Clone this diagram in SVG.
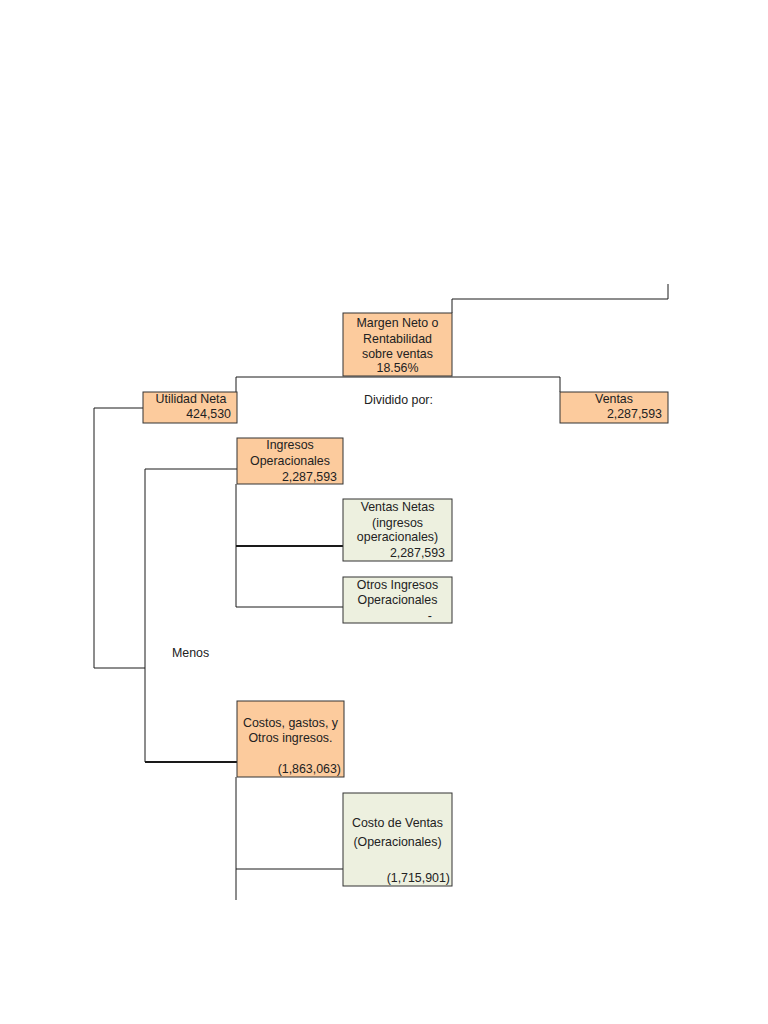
<svg xmlns="http://www.w3.org/2000/svg" width="768" height="1024" viewBox="0 0 768 1024">
<style>
.o{fill:#FCCB9D;stroke:#333;stroke-width:1}
.g{fill:#EDF0DF;stroke:#333;stroke-width:1}
text{font-family:"Liberation Sans",Arial,sans-serif;font-size:12.4px;fill:#222}
.c{text-anchor:middle}
.r{text-anchor:end}
.ln{fill:none;stroke:#1a1a1a;stroke-width:1}
.b{stroke-width:2}
</style>
<rect width="768" height="1024" fill="#fff"/>
<g id="connectors">
<path class="ln" d="M452,313 V299 H668 V284"/>
<path class="ln" stroke-width="1.5" d="M236,392 V377 H560 V392"/>
<path class="ln" d="M143,408 H94 V668 H145"/>
<path class="ln" d="M237,469 H145 V762"/>
<path class="ln b" d="M145,762 H237"/>
<path class="ln" d="M236,484 V607 H343"/>
<path class="ln b" d="M236,546 H343"/>
<path class="ln" d="M236,777 V900"/>
<path class="ln" stroke="#555" stroke-width="1.3" d="M236,869 H343"/>
</g>
<g id="margen">
<rect class="o" x="343" y="313" width="109" height="63"/>
<text class="c" x="397.5" y="327">Margen Neto o</text>
<text class="c" x="397.5" y="343">Rentabilidad</text>
<text class="c" x="397.5" y="358">sobre ventas</text>
<text class="c" x="397.5" y="372">18.56%</text>
</g>
<g id="utilidad">
<rect class="o" x="143" y="392" width="94" height="31"/>
<text class="c" x="191" y="403">Utilidad Neta</text>
<text class="r" x="231" y="418">424,530</text>
</g>
<g id="dividido">
<text x="364" y="404">Dividido por:</text>
</g>
<g id="ventas">
<rect class="o" x="560" y="392" width="108" height="31"/>
<text class="c" x="614" y="403">Ventas</text>
<text class="r" x="662" y="418">2,287,593</text>
</g>
<g id="ingresos">
<rect class="o" x="237" y="438" width="106" height="46"/>
<text class="c" x="290" y="449">Ingresos</text>
<text class="c" x="290" y="465">Operacionales</text>
<text class="r" x="337" y="481">2,287,593</text>
</g>
<g id="ventasnetas">
<rect class="g" x="343" y="499" width="109" height="62"/>
<text class="c" x="397.5" y="511">Ventas Netas</text>
<text class="c" x="397.5" y="527">(ingresos</text>
<text class="c" x="397.5" y="541">operacionales)</text>
<text class="r" x="445" y="557">2,287,593</text>
</g>
<g id="otros">
<rect class="g" x="343" y="577" width="109" height="46"/>
<text class="c" x="397.5" y="589">Otros Ingresos</text>
<text class="c" x="397.5" y="604">Operacionales</text>
<text class="r" x="432" y="620">-</text>
</g>
<g id="menos">
<text x="172" y="657">Menos</text>
</g>
<g id="costos">
<rect class="o" x="237" y="701" width="107" height="76"/>
<text class="c" x="290.5" y="727">Costos, gastos, y</text>
<text class="c" x="290.5" y="742">Otros ingresos.</text>
<text class="r" x="341" y="773">(1,863,063)</text>
</g>
<g id="costoventas">
<rect class="g" x="343" y="793" width="109" height="93"/>
<text class="c" x="397.5" y="827">Costo de Ventas</text>
<text class="c" x="397.5" y="846">(Operacionales)</text>
<text class="r" x="450" y="882">(1,715,901)</text>
</g>
</svg>
